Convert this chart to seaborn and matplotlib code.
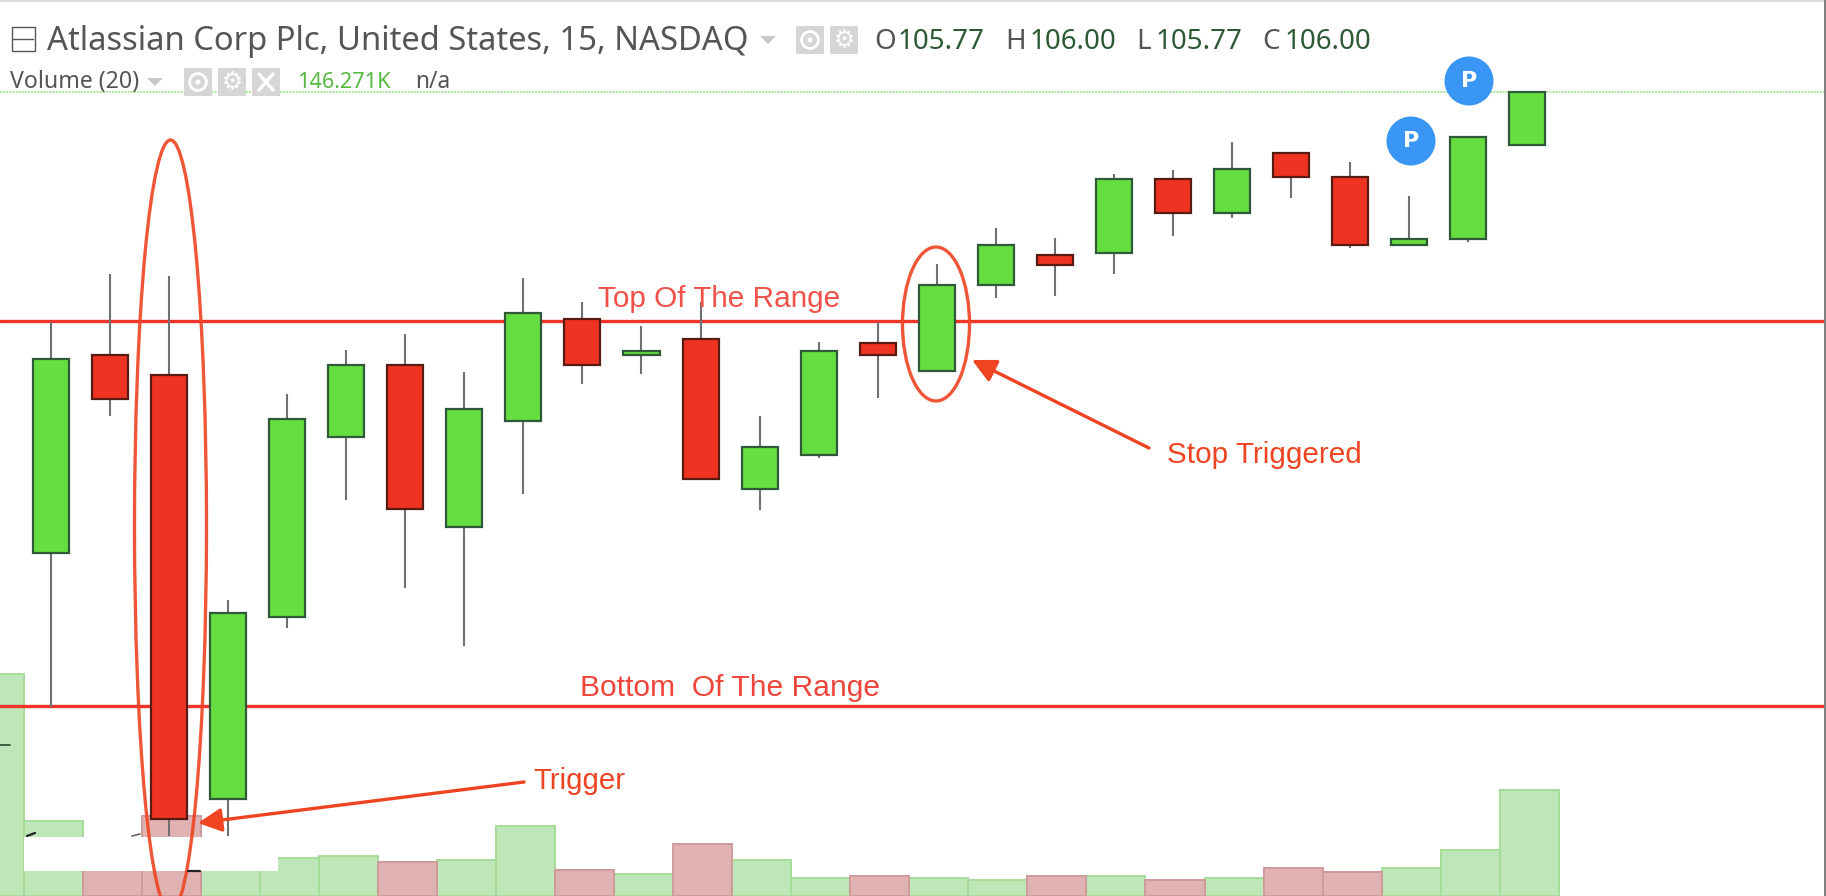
import numpy as np
import pandas as pd
import matplotlib.pyplot as plt
from matplotlib.patches import Ellipse, Circle, Rectangle, Polygon
import seaborn as sns

sns.set_theme(style='white')

# candles, price scale taken from O 105.77 / C 106.00 of the last bar
bars = list(range(26))
opens = [103.999, 104.859, 104.772, 102.932, 103.722, 104.503, 104.815, 104.112, 104.572, 105.015,
         104.859, 104.928, 104.277, 104.424, 104.911, 104.789, 105.162, 105.293, 105.301, 105.622,
         105.475, 105.735, 105.631, 105.336, 105.362, 105.770]
closes = [104.841, 104.668, 102.845, 103.739, 104.581, 104.815, 104.190, 104.624, 105.041, 104.815,
          104.876, 104.320, 104.459, 104.876, 104.859, 105.162, 105.336, 105.249, 105.622, 105.475,
          105.666, 105.631, 105.336, 105.362, 105.805, 106.000]
highs = [105.002, 105.210, 105.201, 103.795, 104.689, 104.880, 104.950, 104.785, 105.193, 105.089,
         104.985, 105.089, 104.594, 104.915, 105.002, 105.254, 105.410, 105.366, 105.644, 105.662,
         105.783, 105.735, 105.696, 105.549, 105.805, 106.000]
lows = [103.331, 104.594, 102.771, 102.771, 103.674, 104.229, 103.847, 103.596, 104.255, 104.733,
        104.776, 104.320, 104.186, 104.411, 104.672, 104.789, 105.106, 105.115, 105.210, 105.375,
        105.453, 105.540, 105.323, 105.336, 105.349, 105.770]

# volume in thousands, first entry is the cut off bar at the left edge
vol_bars = list(range(-1, 26))
volumes = [306.0, 103.5, 63.5, 110.4, 63.5, 52.4, 55.2, 46.9, 49.7, 96.6, 35.9, 30.4, 71.8, 49.7,
           24.8, 27.6, 24.8, 22.1, 27.6, 27.6, 22.1, 24.8, 38.6, 33.1, 38.6, 63.5, 146.271]
vol_sides = ['up', 'up', 'down', 'down', 'up', 'up', 'up', 'down', 'up', 'up', 'down', 'up', 'down', 'up',
             'up', 'down', 'up', 'up', 'down', 'up', 'down', 'up', 'down', 'down', 'up', 'up', 'up']

range_top = 105.008
range_bottom = 103.335
last_close = 106.00

GREEN, GREEN_EDGE = '#66dd40', '#2f5a38'
RED, RED_EDGE = '#ee3322', '#561c14'
INK = '#ee4422'

XLIM = (-0.864, 30.06)
YLIM = (102.511, 106.399)

fig = plt.figure(figsize=(18.26, 8.96), dpi=100, facecolor='white')

# volume pane at the back, sits a touch right of the candles
ax_vol = fig.add_axes([0, 0, 1, 1])
vol = pd.DataFrame({'bar': vol_bars, 'volume': volumes, 'side': vol_sides})
sns.barplot(data=vol, x='bar', y='volume', hue='side', native_scale=True, dodge=False, width=1.0,
            palette={'up': '#bfe6b8', 'down': '#e0b2b2'}, saturation=1, legend=False, ax=ax_vol)
for container, edge in zip(ax_vol.containers, ['#a6dc9a', '#d09a9a']):
    for patch in container:
        patch.set_edgecolor(edge)
        patch.set_linewidth(1.4)
ax_vol.set_xlim(XLIM[0] - 0.035, XLIM[1] - 0.035)
ax_vol.set_ylim(0, 1236.5)
ax_vol.axis('off')

# price pane
ax = fig.add_axes([0, 0, 1, 1], facecolor='none')
ax.axhline(last_close, color='#a8e89a', lw=1.4, ls=(0, (1, 0.6)), zorder=1)
ax.axhline(range_top, color='#f0342a', lw=2.4, zorder=2)
ax.axhline(range_bottom, color='#f0342a', lw=2.4, zorder=2)
o, c = np.array(opens), np.array(closes)
up = c >= o
ax.vlines(bars, lows, highs, color='#707070', lw=1.5, zorder=3)
ax.bar(bars, np.abs(c - o), bottom=np.minimum(o, c), width=0.61,
       color=[GREEN if u else RED for u in up],
       edgecolor=[GREEN_EDGE if u else RED_EDGE for u in up], linewidth=1.6, zorder=4)
ax.set_xlim(*XLIM)
ax.set_ylim(*YLIM)
ax.axis('off')

# overlay in screen pixels for the hand drawn notes and the header
ov = fig.add_axes([0, 0, 1, 1], facecolor='none')
ov.set_xlim(0, 1826)
ov.set_ylim(896, 0)
ov.axis('off')

# the white patch over the volume pane
ax.add_patch(Rectangle((-0.46, 102.62), 4.3, 0.148, facecolor='white', edgecolor='none', zorder=5))
ov.plot([27, 35], [836, 833], color='#222222', lw=1.6)
ov.plot([132, 140], [836, 834], color='#666666', lw=1.2)
ov.plot([188, 200], [871, 871], color='#222222', lw=1.6)
ov.plot([0, 10], [745, 745], color=GREEN_EDGE, lw=1.3)

# top and right border of the screenshot
ov.add_patch(Rectangle((0, 0), 1826, 2.2, facecolor='#d8dee2', edgecolor='none'))
ov.add_patch(Rectangle((1824, 0), 2, 896, facecolor='#808080', edgecolor='none'))

# ellipses
ov.add_patch(Ellipse((170.5, 526), 72, 772, fill=False, edgecolor=INK, lw=2.4, alpha=0.9))
ov.add_patch(Ellipse((936, 324), 67, 154, fill=False, edgecolor=INK, lw=2.4, alpha=0.9))

# arrows
for start, tip in [((524, 782), (198, 823)), ((1149, 448), (972, 360))]:
    ov.annotate('', xy=tip, xytext=start,
                arrowprops=dict(arrowstyle='-|>,head_length=0.8,head_width=0.4', color=INK,
                                lw=2.4, mutation_scale=18, shrinkA=0, shrinkB=0))

# notes
note = dict(family='Liberation Sans', va='center', ha='left')
ov.text(598, 299, 'Top Of The Range', color='#f0524a', fontsize=21.4, **note)
ov.text(580, 688, 'Bottom  Of The Range', color='#f0453a', fontsize=21.6, **note)
ov.text(1167, 455, 'Stop Triggered', color=INK, fontsize=21.4, **note)
ov.text(533, 781, 'Trigger', color=INK, fontsize=21.2, **note)

# P bubbles
for x, y in [(1411, 141), (1469, 81)]:
    ov.add_patch(Circle((x, y), 24.5, facecolor='#3a96f5', edgecolor='none', zorder=6))
    ov.text(x, y, 'P', color='white', fontsize=16, fontweight='bold', family='DejaVu Sans',
            ha='center', va='center', zorder=7)

# header
head = dict(family='Noto Sans', va='center', ha='left')
ov.add_patch(Rectangle((11.5, 27), 23, 24, fill=False, edgecolor='#555555', lw=1))
ov.plot([13, 33], [39, 39], color='#555555', lw=1)
ov.text(47, 41, 'Atlassian Corp Plc, United States, 15, NASDAQ', color='#555555', fontsize=23.6, **head)
ov.add_patch(Polygon([(760, 36), (776, 36), (768, 44)], facecolor='#c8c8c8', edgecolor='none'))
ov.text(10, 82, 'Volume (20)', color='#555555', fontsize=16.6, **head)
ov.add_patch(Polygon([(147, 78), (163, 78), (155, 86)], facecolor='#c8c8c8', edgecolor='none'))


def icon_box(x, y, size, kind):
    ov.add_patch(Rectangle((x, y), size, size, facecolor='#d6d6d6', edgecolor='none'))
    cx, cy = x + size / 2, y + size / 2
    if kind == 'eye':
        ov.add_patch(Circle((cx, cy), size * 0.3, fill=False, edgecolor='white', lw=2))
        ov.add_patch(Circle((cx, cy), size * 0.09, facecolor='white', edgecolor='none'))
    elif kind == 'gear':
        ov.text(cx, cy, '\u2699', color='white', fontsize=17, family='DejaVu Sans', ha='center', va='center')
    else:
        ov.plot([cx - 7, cx + 7], [cy - 8, cy + 8], color='white', lw=2.4)
        ov.plot([cx - 7, cx + 7], [cy + 8, cy - 8], color='white', lw=2.4)


icon_box(796, 26, 28, 'eye')
icon_box(830, 26, 28, 'gear')
icon_box(184, 68, 28, 'eye')
icon_box(218, 68, 28, 'gear')
icon_box(252, 68, 28, 'close')

ov.text(297, 82, '146.271K', color='#55b840', fontsize=15.6, **head)
ov.text(415, 82, 'n/a', color='#555555', fontsize=16.4, **head)

dark = '#2d5a35'
for label, lx, value, vx in [('O', 874, '105.77', 898), ('H', 1005, '106.00', 1030),
                             ('L', 1136, '105.77', 1156), ('C', 1262, '106.00', 1285)]:
    ov.text(lx, 42, label, color='#555555', fontsize=20, **head)
    ov.text(vx, 42, value, color=dark, fontsize=20, **head)

plt.savefig('out.png', dpi=100)
plt.close()
